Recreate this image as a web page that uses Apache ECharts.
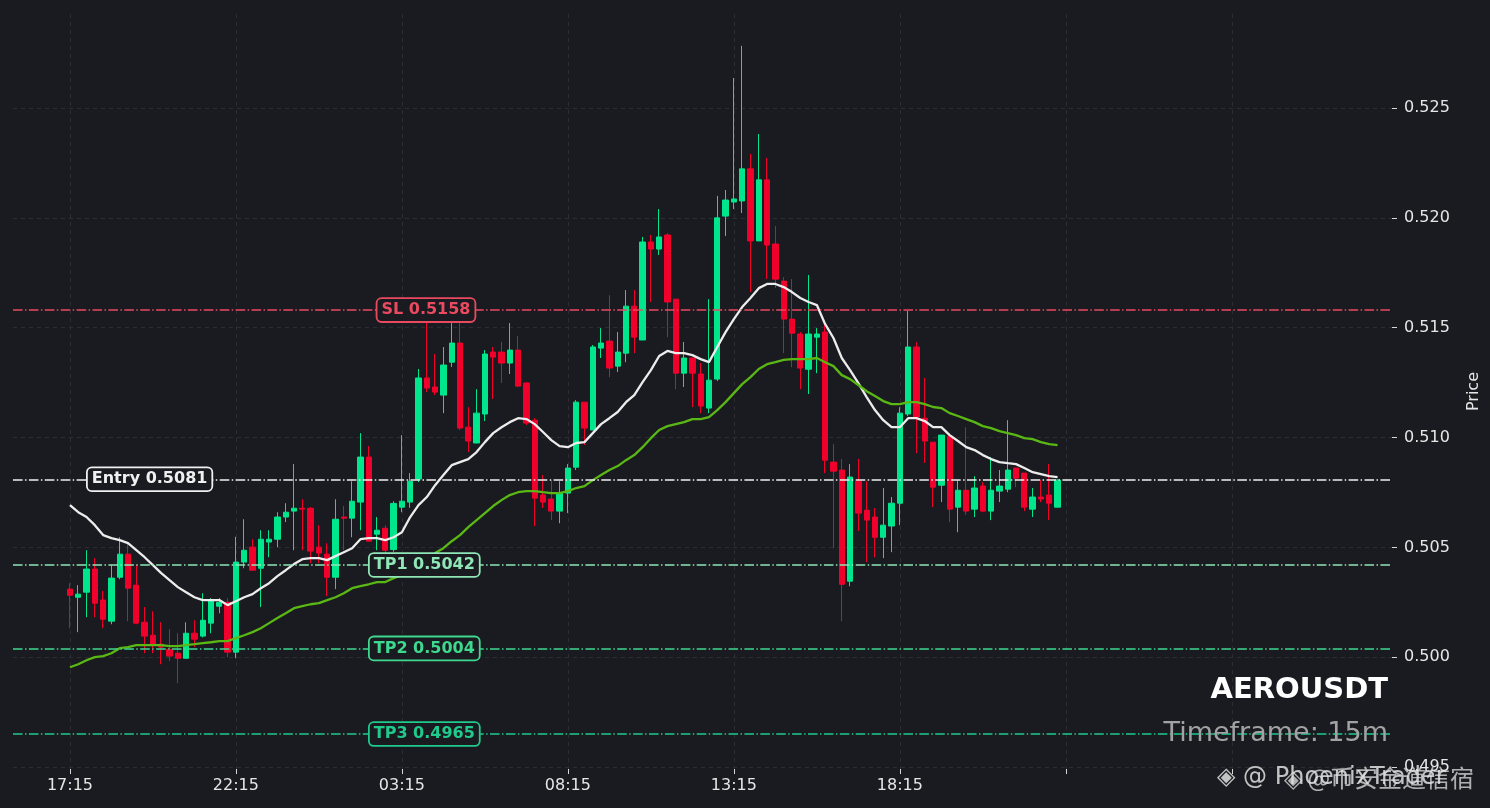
<!DOCTYPE html>
<html><head><meta charset="utf-8">
<script src="https://cdn.jsdelivr.net/npm/echarts@6/dist/echarts.min.js"></script>
<style>html,body{margin:0;padding:0;background:#1a1b20;overflow:hidden;} #c{width:1490px;height:808px;}</style>
</head><body><div id="c"></div>
<script>
const opens = [0.50310,0.50273,0.50296,0.50401,0.50260,0.50164,0.50364,0.50469,0.50328,0.50159,
 0.50100,0.50059,0.50036,0.50018,0.49995,0.50109,0.50096,0.50155,0.50232,0.50250,
 0.50023,0.50433,0.50501,0.50405,0.50524,0.50537,0.50638,0.50665,0.50678,0.50678,
 0.50501,0.50469,0.50364,0.50638,0.50633,0.50706,0.50911,0.50560,0.50587,0.50490,
 0.50683,0.50706,0.50811,0.51271,0.51230,0.51193,0.51343,0.51430,0.51047,0.50975,
 0.51107,0.51389,0.51389,0.51339,0.51398,0.51248,0.51079,0.50738,0.50720,0.50665,
 0.50747,0.50865,0.51161,0.51034,0.51407,0.51439,0.51325,0.51384,0.51598,0.51444,
 0.51890,0.51858,0.51922,0.51630,0.51293,0.51362,0.51289,0.51134,0.51266,0.52008,
 0.52072,0.52077,0.52223,0.51895,0.52173,0.51881,0.51712,0.51539,0.51471,0.51311,
 0.51457,0.51480,0.50888,0.50852,0.50346,0.50801,0.50669,0.50638,0.50546,0.50597,
 0.50701,0.51107,0.51412,0.51088,0.50979,0.50783,0.51006,0.50683,0.50760,0.50674,
 0.50779,0.50665,0.50756,0.50765,0.50861,0.50838,0.50674,0.50729,0.50738,0.50683];
const closes = [0.50282,0.50287,0.50401,0.50246,0.50173,0.50360,0.50469,0.50314,0.50155,0.50096,
 0.50059,0.50046,0.50005,0.49995,0.50109,0.50082,0.50168,0.50260,0.50250,0.50023,
 0.50433,0.50487,0.50396,0.50537,0.50537,0.50638,0.50660,0.50678,0.50674,0.50483,
 0.50474,0.50364,0.50628,0.50633,0.50710,0.50911,0.50528,0.50578,0.50487,0.50700,
 0.50710,0.50801,0.51271,0.51225,0.51207,0.51330,0.51430,0.51043,0.50984,0.51111,
 0.51380,0.51366,0.51339,0.51398,0.51234,0.51066,0.50724,0.50706,0.50665,0.50747,
 0.50861,0.51161,0.51043,0.51412,0.51430,0.51316,0.51389,0.51598,0.51457,0.51890,
 0.51858,0.51913,0.51617,0.51293,0.51362,0.51293,0.51143,0.51261,0.52000,0.52081,
 0.52086,0.52223,0.51895,0.52173,0.51876,0.51721,0.51539,0.51475,0.51316,0.51471,
 0.51471,0.50897,0.50847,0.50332,0.50820,0.50656,0.50624,0.50546,0.50601,0.50701,
 0.51111,0.51412,0.51093,0.50984,0.50774,0.51011,0.50674,0.50760,0.50665,0.50770,
 0.50665,0.50760,0.50779,0.50852,0.50815,0.50683,0.50729,0.50720,0.50701,0.50806];
const lows = [0.50132,0.50114,0.50182,0.50182,0.50132,0.50150,0.50355,0.50164,0.50150,0.50018,
 0.50018,0.49968,0.49982,0.49882,0.49995,0.50046,0.50090,0.50109,0.50200,0.50000,
 0.49995,0.50405,0.50396,0.50228,0.50455,0.50501,0.50615,0.50487,0.50487,0.50428,
 0.50428,0.50278,0.50310,0.50487,0.50546,0.50578,0.50528,0.50487,0.50450,0.50480,
 0.50660,0.50680,0.50797,0.51207,0.51193,0.51111,0.51321,0.51034,0.50934,0.50975,
 0.51075,0.51175,0.51248,0.51289,0.51230,0.51057,0.50597,0.50679,0.50624,0.50610,
 0.50656,0.50852,0.50966,0.51034,0.51362,0.51275,0.51298,0.51343,0.51384,0.51444,
 0.51617,0.51831,0.51457,0.51220,0.51230,0.51138,0.51111,0.51111,0.51257,0.51917,
 0.52040,0.52022,0.51662,0.51895,0.51721,0.51680,0.51384,0.51320,0.51220,0.51198,
 0.51293,0.50838,0.50496,0.50164,0.50323,0.50574,0.50433,0.50455,0.50451,0.50478,
 0.50601,0.51098,0.50929,0.50884,0.50683,0.50706,0.50615,0.50569,0.50647,0.50638,
 0.50660,0.50624,0.50706,0.50751,0.50774,0.50665,0.50638,0.50706,0.50624,0.50683];
const highs = [0.50337,0.50328,0.50487,0.50451,0.50301,0.50419,0.50546,0.50524,0.50419,0.50228,
 0.50209,0.50159,0.50128,0.50109,0.50159,0.50168,0.50291,0.50269,0.50269,0.50269,
 0.50548,0.50628,0.50537,0.50578,0.50578,0.50660,0.50701,0.50879,0.50719,0.50683,
 0.50601,0.50519,0.50719,0.50688,0.50801,0.51020,0.50961,0.50638,0.50601,0.50710,
 0.51011,0.50838,0.51312,0.51526,0.51380,0.51412,0.51521,0.51526,0.51138,0.51220,
 0.51398,0.51412,0.51435,0.51521,0.51462,0.51252,0.51088,0.50829,0.50806,0.50801,
 0.50879,0.51170,0.51161,0.51421,0.51498,0.51648,0.51480,0.51671,0.51671,0.51913,
 0.51922,0.52040,0.51930,0.51630,0.51435,0.51362,0.51339,0.51630,0.52100,0.52127,
 0.52637,0.52783,0.52291,0.52382,0.52273,0.51963,0.51730,0.51721,0.51480,0.51740,
 0.51498,0.51521,0.50970,0.50902,0.50879,0.50902,0.50801,0.50679,0.50770,0.50729,
 0.51138,0.51576,0.51435,0.51271,0.50979,0.51011,0.51020,0.50806,0.51047,0.50824,
 0.50797,0.50911,0.50852,0.51079,0.50861,0.50838,0.50770,0.50806,0.50879,0.50810];
const maWhite = [0.50692,0.50660,0.50638,0.50601,0.50556,0.50542,0.50533,0.50519,0.50487,0.50455,
 0.50419,0.50383,0.50351,0.50319,0.50296,0.50273,0.50260,0.50260,0.50260,0.50237,
 0.50255,0.50273,0.50287,0.50314,0.50337,0.50369,0.50396,0.50424,0.50446,0.50451,
 0.50451,0.50442,0.50460,0.50478,0.50496,0.50537,0.50542,0.50542,0.50533,0.50546,
 0.50569,0.50638,0.50692,0.50729,0.50783,0.50829,0.50874,0.50888,0.50902,0.50934,
 0.50979,0.51020,0.51047,0.51070,0.51088,0.51084,0.51061,0.51025,0.50988,0.50961,
 0.50956,0.50975,0.50979,0.51020,0.51061,0.51088,0.51116,0.51161,0.51193,0.51252,
 0.51307,0.51371,0.51394,0.51384,0.51384,0.51375,0.51357,0.51343,0.51412,0.51480,
 0.51539,0.51594,0.51635,0.51680,0.51699,0.51699,0.51685,0.51662,0.51635,0.51617,
 0.51603,0.51516,0.51453,0.51362,0.51307,0.51248,0.51184,0.51125,0.51079,0.51047,
 0.51047,0.51088,0.51088,0.51075,0.51047,0.51047,0.51011,0.50984,0.50956,0.50943,
 0.50920,0.50902,0.50888,0.50883,0.50879,0.50861,0.50842,0.50833,0.50824,0.50820];
const maGreen = [0.49954,0.49968,0.49986,0.50000,0.50005,0.50018,0.50041,0.50046,0.50055,0.50055,
 0.50055,0.50055,0.50050,0.50050,0.50055,0.50059,0.50064,0.50068,0.50073,0.50073,
 0.50087,0.50100,0.50114,0.50132,0.50155,0.50178,0.50200,0.50223,0.50232,0.50241,
 0.50246,0.50260,0.50273,0.50291,0.50314,0.50323,0.50332,0.50342,0.50342,0.50360,
 0.50373,0.50396,0.50414,0.50442,0.50474,0.50496,0.50528,0.50556,0.50592,0.50624,
 0.50656,0.50688,0.50715,0.50738,0.50751,0.50756,0.50756,0.50751,0.50747,0.50747,
 0.50756,0.50770,0.50779,0.50806,0.50829,0.50852,0.50870,0.50897,0.50920,0.50956,
 0.50997,0.51034,0.51052,0.51061,0.51070,0.51084,0.51084,0.51093,0.51125,0.51161,
 0.51202,0.51243,0.51275,0.51312,0.51334,0.51343,0.51353,0.51357,0.51357,0.51357,
 0.51362,0.51343,0.51325,0.51284,0.51266,0.51239,0.51211,0.51189,0.51166,0.51152,
 0.51152,0.51161,0.51161,0.51152,0.51139,0.51134,0.51111,0.51098,0.51084,0.51070,
 0.51052,0.51043,0.51029,0.51020,0.51011,0.50997,0.50993,0.50979,0.50970,0.50965];
const timeLabels = ['17:15','22:15','03:15','08:15','13:15','18:15'];
const timeLabelIndex = [0,20,40,60,80,100];
const xTickIndex = [0,20,40,60,80,100,120,140];
const priceTicks = [0.495,0.500,0.505,0.510,0.515,0.520,0.525];
const levelNames = ['SL','Entry','TP1','TP2','TP3'];
const levelValues = [0.5158,0.5081,0.5042,0.5004,0.4965];

const levelColors = ['#ea4a60','#f0f0f0','#8fe6b6','#3ed98f','#1fca8c'];
const levelLabelX = [42.9,9.6,42.7,42.7,42.7];
const FONT = 'DejaVu Sans';
const BG = '#1a1b20';
const UP = '#00e68c';
const DOWN = '#f2002c';

const candleData = opens.map((o,i)=>[i,o,closes[i],lows[i],highs[i]]);
const dashDot = [9.6,2.4,1.5,2.4];

const chart = echarts.init(document.getElementById('c'), null, {renderer:'canvas'});
chart.setOption({
  backgroundColor: BG,
  animation: false,
  grid: {left: 13, right: 96, top: 14, bottom: 39, containLabel: false},
  xAxis: {
    type: 'value', min: -6.86, max: 159.3,
    axisLine: {show: false, onZero: false},
    axisTick: {show: true, length: 5, customValues: xTickIndex, lineStyle: {color: '#d8d8d8', width: 1}},
    axisLabel: {show: true, customValues: timeLabelIndex, margin: 9, color: '#e6e6e6', fontSize: 16, fontFamily: FONT,
      formatter: v => { const k = timeLabelIndex.indexOf(Math.round(v)); return k >= 0 ? timeLabels[k] : ''; }},
    splitLine: {show: true, lineStyle: {color: '#2c2d33', type: [4,4], width: 1}}
  },
  yAxis: {
    type: 'value', position: 'right', min: 0.49491, max: 0.52928, scale: true,
    name: 'Price', nameLocation: 'middle', nameGap: 74, nameRotate: 90,
    nameTextStyle: {color: '#e6e6e6', fontSize: 16, fontFamily: FONT},
    axisLine: {show: false, onZero: false},
    axisTick: {show: true, length: 5, customValues: priceTicks, lineStyle: {color: '#d8d8d8', width: 1}},
    axisLabel: {show: true, customValues: priceTicks, margin: 12, color: '#e6e6e6', fontSize: 16, fontFamily: FONT,
      formatter: v => v.toFixed(3)},
    splitLine: {show: true, lineStyle: {color: '#2c2d33', type: [4,4], width: 1}}
  },
  series: [
    {
      type: 'candlestick', name: 'AEROUSDT', z: 2,
      data: candleData, encode: {x: 0, y: [1,2,3,4]},
      barWidth: 5.8,
      itemStyle: {color: UP, color0: DOWN, borderColor: UP, borderColor0: DOWN, borderWidth: 1}
    },
    {
      type: 'line', name: 'MA fast', z: 3, showSymbol: false, symbol: 'none',
      data: maWhite.map((v,i)=>[i,v]),
      lineStyle: {color: '#ececec', width: 2.3}
    },
    {
      type: 'line', name: 'MA slow', z: 3, showSymbol: false, symbol: 'none',
      data: maGreen.map((v,i)=>[i,v]),
      lineStyle: {color: '#5ab814', width: 2.3}
    },
    {
      type: 'line', name: 'levels', z: 4, data: [],
      markLine: {
        silent: true, symbol: ['none','none'], label: {show: false}, precision: 6,
        data: levelValues.map((v,k)=>({yAxis: v, lineStyle: {color: levelColors[k], type: dashDot, width: 1.5}}))
      }
    },
    {
      type: 'scatter', name: 'levelLabels', z: 6, symbolSize: 0, silent: true,
      itemStyle: {opacity: 1},
      data: levelValues.map((v,k)=>({
        value: [levelLabelX[k], v],
        label: {
          show: true, position: 'inside',
          formatter: levelNames[k] + ' ' + v.toFixed(4),
          color: levelColors[k], fontWeight: 'bold', fontSize: 16, fontFamily: FONT,
          backgroundColor: BG, borderColor: levelColors[k], borderWidth: 1.8, borderRadius: 4,
          padding: [2,4,1,4], lineHeight: 19
        }
      }))
    }
  ],
  graphic: [
    {type: 'text', right: 102, top: 676, z: 10, silent: true,
     style: {text: 'AEROUSDT', fill: '#ffffff', font: 'bold 29px "DejaVu Sans"'}},
    {type: 'text', right: 102, top: 720, z: 10, silent: true,
     style: {text: 'Timeframe: 15m', fill: '#a2a2a2', font: '27px "DejaVu Sans"'}},
    {type: 'text', left: 1217, top: 766, z: 10, silent: true,
     style: {text: '◈ @ PhoenixTrader', fill: 'rgba(225,225,225,0.85)', font: '24px "DejaVu Sans"'}},
    {type: 'text', left: 1284, top: 766, z: 10, silent: true,
     style: {text: '◈ @币安金道信宿', fill: 'rgba(225,225,225,0.75)', font: '24px "Noto Sans CJK SC"'}}
  ]
});
</script>
</body></html>
